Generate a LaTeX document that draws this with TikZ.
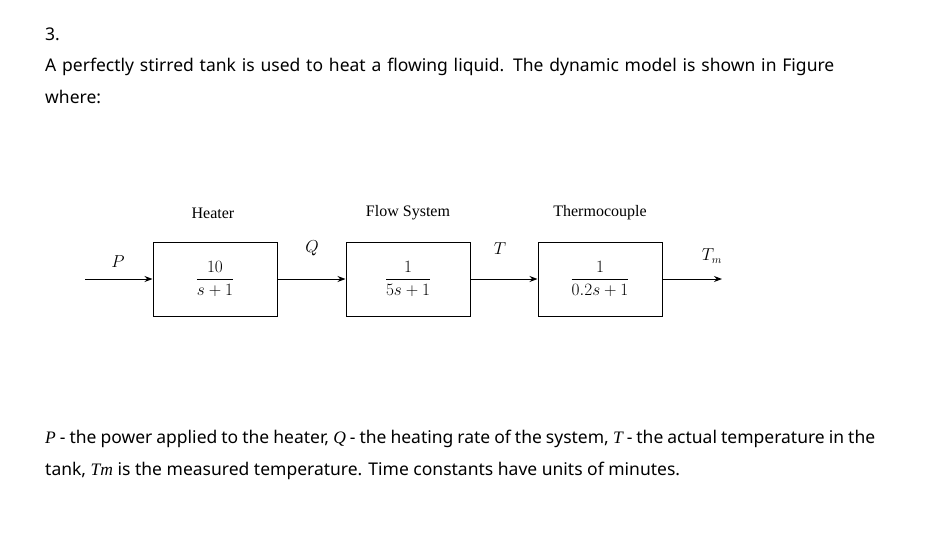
\documentclass[tikz,border=0pt]{standalone}
\usepackage{amsmath}
\usepackage{fontspec}
\setmainfont{Liberation Serif}
\newfontfamily\bodyfont{Noto Sans}
\usetikzlibrary{arrows.meta}
\newcommand{\mv}[1]{{\rmfamily\itshape #1}}
\begin{document}
\begin{tikzpicture}[x=1pt,y=-1pt,
  blk/.style={draw,line width=1pt,minimum width=124pt,minimum height=74pt,inner sep=0pt},
  sig/.style={-{Stealth[length=8pt,width=6pt]},line width=1pt},
  lbl/.style={font=\fontsize{16}{18}\selectfont},
  body/.style={font=\bodyfont\fontsize{17.5}{32}\selectfont,anchor=north west,inner sep=0pt}]
\useasboundingbox[fill=white] (0,0) rectangle (943,558);
\node[body] (n3) at (45,28) {3.};
\node[body,text width=840pt,align=left] (intro) at (45,58) {A perfectly stirred tank is used to heat a flowing liquid. The dynamic model is shown in Figure\\ where:};
\node[blk] (h) at (215,279) {};
\node[blk] (f) at (408,279) {};
\node[blk] (t) at (600,279) {};
\node[lbl] (hl) at (213,213) {Heater};
\node[lbl] (fl) at (408,213) {Flow System};
\node[lbl] (tl) at (600,213) {Thermocouple};
\node[lbl] (hf) at (h) {$\dfrac{10}{s+1}$};
\node[lbl] (ff) at (f) {$\dfrac{1}{5s+1}$};
\node[lbl] (tf) at (t) {$\dfrac{1}{0.2s+1}$};
\coordinate (in) at (85,279);
\coordinate (out) at (722,279);
\draw[sig] (in) -- (h.west);
\draw[sig] (h.east) -- (f.west);
\draw[sig] (f.east) -- (t.west);
\draw[sig] (t.east) -- (out);
\node[lbl] (p) at (118,262) {$P$};
\node[lbl] (q) at (312,248) {$Q$};
\node[lbl] (tt) at (500,249) {$T$};
\node[lbl] (tm) at (712,256) {$T_m$};
\node[body,text width=830pt,align=justify] (desc) at (45,430) {\mv{P} - the power applied to the heater, \mv{Q} - the heating rate of the system, \mv{T} - the actual temperature in the tank, \mv{Tm} is the measured temperature. Time constants have units of minutes.};
\end{tikzpicture}
\end{document}
